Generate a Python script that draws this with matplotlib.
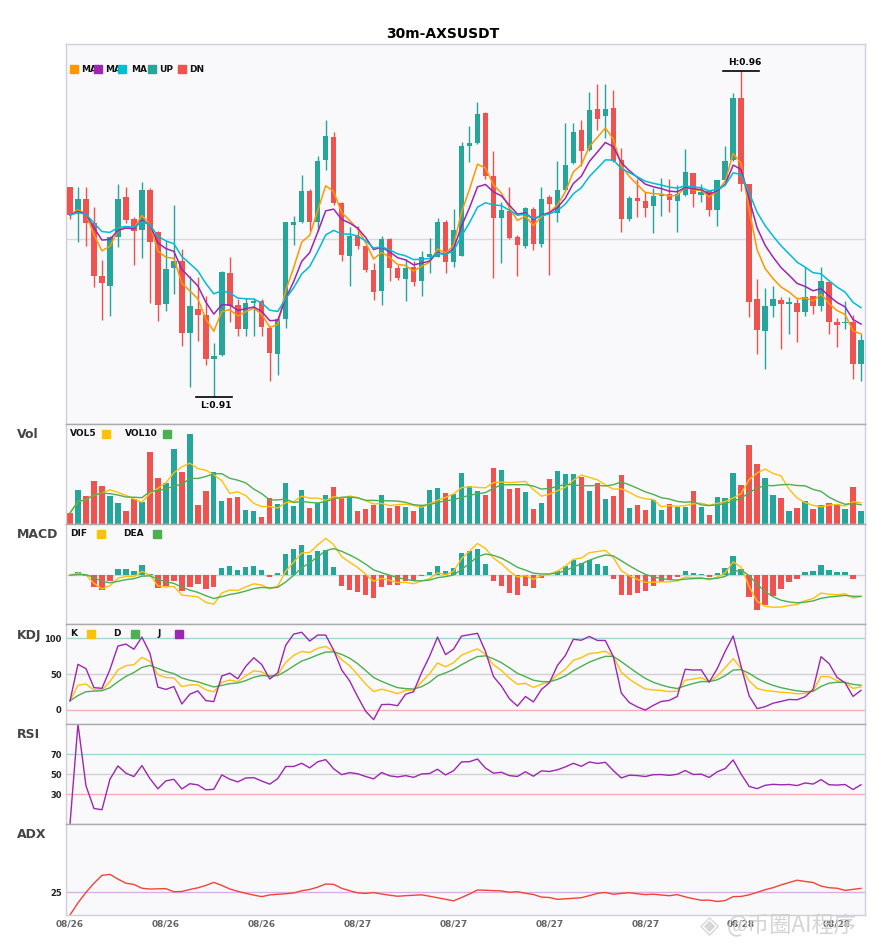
import numpy as np
import pandas as pd
import matplotlib
matplotlib.use('Agg')
import matplotlib.pyplot as plt
from matplotlib.patches import Rectangle

plt.rcParams['font.family'] = ['DejaVu Sans', 'Noto Sans CJK SC']

title = '30m-AXSUSDT'
start_time = '2024-08-26 06:00'

open_ = [0.94245, 0.93840, 0.94065, 0.93705, 0.92910, 0.92760, 0.93495, 0.94095, 0.93765, 0.93600,
         0.94200, 0.93570, 0.92490, 0.93030, 0.93135, 0.92055, 0.92415, 0.92325, 0.91665, 0.91725,
         0.92955, 0.92475, 0.92115, 0.92505, 0.92535, 0.92130, 0.91740, 0.92265, 0.93675, 0.93720,
         0.94185, 0.93720, 0.94650, 0.94995, 0.94005, 0.93210, 0.93510, 0.93360, 0.93000, 0.92685,
         0.93465, 0.93030, 0.92865, 0.93045, 0.92835, 0.93195, 0.93195, 0.93720, 0.93120, 0.93210,
         0.94860, 0.94905, 0.95355, 0.94410, 0.93780, 0.93885, 0.93495, 0.93360, 0.93915, 0.93390,
         0.94095, 0.93855, 0.94200, 0.94605, 0.95100, 0.94800, 0.95415, 0.95310, 0.95430, 0.94650,
         0.93765, 0.94080, 0.94035, 0.93960, 0.94110, 0.94140, 0.94035, 0.94125, 0.94455, 0.94125,
         0.94185, 0.93900, 0.94350, 0.94650, 0.95580, 0.94290, 0.92565, 0.92085, 0.92460, 0.92550,
         0.92490, 0.92505, 0.92370, 0.92610, 0.92460, 0.92820, 0.92220, 0.92205, 0.92220, 0.91590]
high = [0.94245, 0.94245, 0.94245, 0.93945, 0.93150, 0.93510, 0.94290, 0.94245, 0.93795, 0.94320,
        0.94230, 0.93585, 0.93435, 0.93975, 0.93315, 0.92910, 0.92895, 0.92610, 0.91905, 0.92985,
        0.93195, 0.92565, 0.92580, 0.92580, 0.92565, 0.92160, 0.92280, 0.93720, 0.93810, 0.94425,
        0.94215, 0.94710, 0.95250, 0.95070, 0.94020, 0.93645, 0.93660, 0.93375, 0.93105, 0.93510,
        0.93480, 0.93075, 0.93165, 0.93135, 0.93285, 0.93480, 0.93780, 0.93750, 0.93915, 0.94920,
        0.95160, 0.95520, 0.95370, 0.94785, 0.94020, 0.94245, 0.93525, 0.93945, 0.93945, 0.94245,
        0.94125, 0.94635, 0.95205, 0.95205, 0.95250, 0.95670, 0.95790, 0.95790, 0.95700, 0.94830,
        0.94110, 0.94365, 0.94170, 0.94230, 0.94380, 0.94365, 0.94275, 0.94815, 0.94455, 0.94290,
        0.94185, 0.94350, 0.94860, 0.95655, 0.95985, 0.94290, 0.92865, 0.92730, 0.92760, 0.92595,
        0.92595, 0.92565, 0.93045, 0.92610, 0.93045, 0.92820, 0.92280, 0.92535, 0.92325, 0.92040]
low = [0.93765, 0.93420, 0.93360, 0.92745, 0.92250, 0.92310, 0.93345, 0.93705, 0.93075, 0.93180,
       0.92505, 0.92235, 0.92385, 0.92640, 0.91860, 0.91245, 0.91935, 0.91575, 0.91095, 0.91710,
       0.92220, 0.92010, 0.92010, 0.92010, 0.92010, 0.91335, 0.91425, 0.92130, 0.93375, 0.93705,
       0.93585, 0.93585, 0.94500, 0.93975, 0.93135, 0.92760, 0.93315, 0.92970, 0.92550, 0.92475,
       0.92835, 0.92850, 0.92535, 0.92760, 0.92610, 0.92955, 0.93195, 0.92955, 0.93045, 0.93210,
       0.94620, 0.94890, 0.94365, 0.92880, 0.93105, 0.93465, 0.92910, 0.93330, 0.93300, 0.93345,
       0.92925, 0.93720, 0.94185, 0.94590, 0.94560, 0.94785, 0.95100, 0.94980, 0.94620, 0.93570,
       0.93735, 0.93795, 0.93795, 0.93555, 0.93810, 0.93870, 0.93570, 0.94110, 0.93945, 0.94020,
       0.93810, 0.93660, 0.94350, 0.94635, 0.94185, 0.92295, 0.91740, 0.91515, 0.92295, 0.91815,
       0.92040, 0.91920, 0.92310, 0.92340, 0.92385, 0.92040, 0.91845, 0.92115, 0.91365, 0.91335]
close = [0.93825, 0.94065, 0.93705, 0.92910, 0.92805, 0.93495, 0.94065, 0.93750, 0.93585, 0.94200,
         0.93420, 0.92475, 0.93015, 0.93135, 0.92055, 0.92460, 0.92325, 0.91665, 0.91710, 0.92970,
         0.92460, 0.92115, 0.92505, 0.92535, 0.92145, 0.91755, 0.92265, 0.93720, 0.93720, 0.94185,
         0.93720, 0.94635, 0.95010, 0.94005, 0.93225, 0.93510, 0.93360, 0.93000, 0.92670, 0.93465,
         0.93030, 0.92880, 0.93030, 0.92820, 0.93195, 0.93240, 0.93720, 0.93120, 0.93600, 0.94860,
         0.94905, 0.95340, 0.94410, 0.93780, 0.93900, 0.93480, 0.93375, 0.93930, 0.93390, 0.94065,
         0.93990, 0.94200, 0.94575, 0.95070, 0.94785, 0.95400, 0.95265, 0.95415, 0.94635, 0.93765,
         0.94080, 0.94035, 0.93930, 0.94110, 0.94125, 0.94050, 0.94140, 0.94470, 0.94140, 0.94170,
         0.93900, 0.94350, 0.94635, 0.95580, 0.94290, 0.92520, 0.92100, 0.92460, 0.92565, 0.92490,
         0.92520, 0.92370, 0.92595, 0.92460, 0.92835, 0.92220, 0.92175, 0.92220, 0.91590, 0.91950]
volume = [11, 34, 28, 43, 38, 28, 21, 13, 25, 22, 72, 46, 41, 75, 52, 90, 19, 33, 52, 23,
          26, 27, 14, 13, 7, 26, 20, 41, 18, 34, 16, 21, 29, 37, 26, 27, 13, 15, 19, 29,
          16, 18, 17, 13, 19, 34, 36, 31, 30, 51, 38, 33, 29, 56, 54, 35, 36, 32, 15, 21,
          45, 53, 50, 50, 47, 33, 41, 25, 28, 49, 16, 19, 14, 24, 14, 20, 17, 17, 33, 17,
          9, 27, 26, 51, 39, 79, 60, 46, 29, 26, 13, 16, 23, 15, 19, 21, 20, 15, 37, 13]

UP, DN = '#26a69a', '#ef5350'
BG = '#f9f9fb'
W, H = 885, 950

df = pd.DataFrame({'open': open_, 'high': high, 'low': low, 'close': close, 'vol': volume})
df.index = pd.date_range(start_time, periods=len(df), freq='30min')
n = len(df)
x = np.arange(n)
c = df['close']


def ema(s, span):
    return s.ewm(span=span, adjust=False).mean()


# indicators
ma_fast, ma_mid, ma_slow = ema(c, 5), ema(c, 8), ema(c, 13)
vol5 = df['vol'].rolling(5, min_periods=1).mean()
vol10 = df['vol'].rolling(10, min_periods=1).mean()

dif = ema(c, 6) - ema(c, 13)
dea = ema(dif, 5)
hist = 2 * (dif - dea)

llv = df['low'].rolling(9, min_periods=1).min()
hhv = df['high'].rolling(9, min_periods=1).max()
rsv = (c - llv) / (hhv - llv) * 100
k = rsv.ewm(com=2, adjust=False).mean()
d = k.ewm(com=2, adjust=False).mean()
j = 3 * k - 2 * d

delta = c.diff()
gain = delta.clip(lower=0).ewm(com=13, adjust=True).mean()
loss = (-delta.clip(upper=0)).ewm(com=13, adjust=True).mean()
rsi = (100 * gain / (gain + loss)).fillna(0)

up_move = df['high'].diff()
down_move = -df['low'].diff()
plus_dm = pd.Series(np.where((up_move > down_move) & (up_move > 0), up_move, 0.0), index=df.index)
minus_dm = pd.Series(np.where((down_move > up_move) & (down_move > 0), down_move, 0.0), index=df.index)
prev_c = c.shift(1)
tr = pd.concat([df['high'] - df['low'], (df['high'] - prev_c).abs(),
                (df['low'] - prev_c).abs()], axis=1).max(axis=1)
atr = ema(tr, 14)
pdi = 100 * ema(plus_dm, 14) / atr
mdi = 100 * ema(minus_dm, 14) / atr
dx = (100 * (pdi - mdi).abs() / (pdi + mdi)).fillna(0)
adx = ema(dx, 14)

fig = plt.figure(figsize=(W / 100, H / 100), dpi=100)


def box(top, bottom):
    return [66 / W, 1 - bottom / H, 799 / W, (bottom - top) / H]


ax_main = fig.add_axes(box(44, 424))
ax_vol = fig.add_axes(box(424, 524), sharex=ax_main)
ax_macd = fig.add_axes(box(524, 624), sharex=ax_main)
ax_kdj = fig.add_axes(box(624, 724), sharex=ax_main)
ax_rsi = fig.add_axes(box(724, 824), sharex=ax_main)
ax_adx = fig.add_axes(box(824, 915), sharex=ax_main)
axes = [ax_main, ax_vol, ax_macd, ax_kdj, ax_rsi, ax_adx]

for i, ax in enumerate(axes):
    ax.set_facecolor(BG)
    for s in ax.spines.values():
        s.set_color('#cfcfd8')
        s.set_linewidth(1)
    if i > 0:
        ax.spines['top'].set_color('#aaaaaa')
    ax.tick_params(length=0, labelsize=6, pad=3)
    ax.set_xlim(-0.5, n - 0.5)
    if ax is not ax_adx:
        ax.tick_params(labelbottom=False)
    ax.set_yticks([])

# candles
colors = np.where(df['close'] >= df['open'], UP, DN)
body_lo = np.minimum(df['open'], df['close'])
body_h = np.maximum((df['close'] - df['open']).abs(), 0.00004)
ax_main.vlines(x, df['low'], df['high'], colors=colors, linewidth=1, zorder=2)
ax_main.bar(x, body_h, bottom=body_lo, width=0.68, color=colors, zorder=3)
ax_main.plot(x, ma_fast, color='#ff9800', lw=1.1, zorder=4)
ax_main.plot(x, ma_mid, color='#9c27b0', lw=1.1, zorder=4)
ax_main.plot(x, ma_slow, color='#00bcd4', lw=1.1, zorder=4)
lo_p, hi_p = df['low'].min(), df['high'].max()
rng = hi_p - lo_p
ax_main.set_ylim(lo_p - 0.083 * rng, hi_p + 0.083 * rng)
ax_main.axhline((lo_p + hi_p) / 2 - 0.015 * rng, color='#d8d8e0', lw=1, zorder=1)

ih = int(df['high'].values.argmax())
il = int(df['low'].values.argmin())
ax_main.plot([ih - 2.25, ih + 2.25], [hi_p, hi_p], color='black', lw=1.2, zorder=5)
ax_main.annotate('H:%.2f' % hi_p, (ih + 0.5, hi_p), xytext=(0, 3), textcoords='offset points',
                 ha='center', va='bottom', fontsize=6.5, fontweight='bold')
ax_main.plot([il - 2.25, il + 2.25], [lo_p, lo_p], color='black', lw=1.2, zorder=5)
ax_main.annotate('L:%.2f' % lo_p, (il + 0.3, lo_p), xytext=(0, -3), textcoords='offset points',
                 ha='center', va='top', fontsize=6.5, fontweight='bold')

# volume
ax_vol.bar(x, df['vol'], width=0.67, color=colors, zorder=2)
ax_vol.plot(x, vol5, color='#ffc107', lw=1, zorder=3)
ax_vol.plot(x, vol10, color='#4caf50', lw=1, zorder=3)
ax_vol.set_ylim(0, df['vol'].max() / 0.9)

# macd
ax_macd.axhline(0, color='#d0d0d8', lw=1, zorder=1)
ax_macd.bar(x, hist, width=0.67, color=np.where(hist >= 0, UP, DN), zorder=2)
ax_macd.plot(x, dif, color='#ffc107', lw=1, zorder=3)
ax_macd.plot(x, dea, color='#4caf50', lw=1, zorder=3)
m_lo = min(dif.min(), dea.min(), hist.min())
m_hi = max(dif.max(), dea.max(), hist.max())
m_r = m_hi - m_lo
ax_macd.set_ylim(m_lo - 0.2 * m_r, m_hi + 0.2 * m_r)

# kdj
ax_kdj.axhline(100, color='#9fd8d0', lw=1)
ax_kdj.axhline(50, color='#d0d0d0', lw=1)
ax_kdj.axhline(0, color='#f4b0b0', lw=1)
ax_kdj.plot(x, k, color='#ffc107', lw=1)
ax_kdj.plot(x, d, color='#4caf50', lw=1)
ax_kdj.plot(x, j, color='#9c27b0', lw=1)
ax_kdj.set_ylim(-20, 120)
ax_kdj.set_yticks([0, 50, 100])

# rsi
ax_rsi.axhline(70, color='#9fd8d0', lw=1)
ax_rsi.axhline(50, color='#d0d0d0', lw=1)
ax_rsi.axhline(30, color='#f4b0b0', lw=1)
ax_rsi.plot(x, rsi, color='#9c27b0', lw=1)
ax_rsi.set_ylim(0, 100)
ax_rsi.set_yticks([30, 50, 70])

# adx
ax_adx.axhline(25, color='#dcaee6', lw=1)
ax_adx.plot(x, adx, color='#f44336', lw=1)
ax_adx.set_ylim(0, 100)
ax_adx.set_yticks([25])

for ax in (ax_kdj, ax_rsi, ax_adx):
    for lab in ax.get_yticklabels():
        lab.set_fontweight('bold')
        lab.set_color('#222222')

ticks = list(range(0, n, 12))
ax_adx.set_xticks(ticks)
ax_adx.set_xticklabels([df.index[t].strftime('%m/%d') for t in ticks],
                       fontsize=6.5, fontweight='bold', color='#666666')


# figure level labels
def ftext(px, py, s, **kw):
    fig.text(px / W, 1 - py / H, s, va='center', **kw)


def fsquare(px, py, col):
    fig.add_artist(Rectangle((px / W, 1 - (py + 8) / H), 8 / W, 8 / H, color=col,
                             transform=fig.transFigure, zorder=6))


ftext(W / 2, 34, title, ha='center', fontsize=10, fontweight='bold')
for lab, py in [('Vol', 435), ('MACD', 535), ('KDJ', 635), ('RSI', 735), ('ADX', 835)]:
    ftext(17, py, lab, fontsize=9, fontweight='bold', color='#444444')

leg_kw = dict(fontsize=6.5, fontweight='bold', color='#111111', zorder=5)
for px, s in [(81, 'MA'), (105, 'MA'), (131, 'MA'), (159, 'UP'), (189, 'DN')]:
    ftext(px, 69, s, **leg_kw)
for px, col in [(70, '#ff9800'), (94, '#9c27b0'), (118, '#00bcd4'), (148, UP), (178, DN)]:
    fsquare(px, 65, col)

ftext(70, 434, 'VOL5', **leg_kw)
ftext(125, 434, 'VOL10', **leg_kw)
fsquare(102, 430, '#ffc107')
fsquare(163, 430, '#4caf50')

ftext(70, 534, 'DIF', **leg_kw)
ftext(123, 534, 'DEA', **leg_kw)
fsquare(97, 530, '#ffc107')
fsquare(153, 530, '#4caf50')

ftext(70, 634, 'K', **leg_kw)
ftext(113, 634, 'D', **leg_kw)
ftext(157, 634, 'J', **leg_kw)
fsquare(87, 630, '#ffc107')
fsquare(131, 630, '#4caf50')
fsquare(175, 630, '#9c27b0')

# watermark
ftext(700, 926, '\u25c8', fontsize=18, color='#d6d6d6', zorder=7)
ftext(727, 926, '@币圈AI程序', fontsize=16, color='#d0d0d0', alpha=0.9, zorder=7,
      family=['Noto Sans CJK SC', 'DejaVu Sans'])

fig.savefig('out.png', dpi=100, facecolor='white')
